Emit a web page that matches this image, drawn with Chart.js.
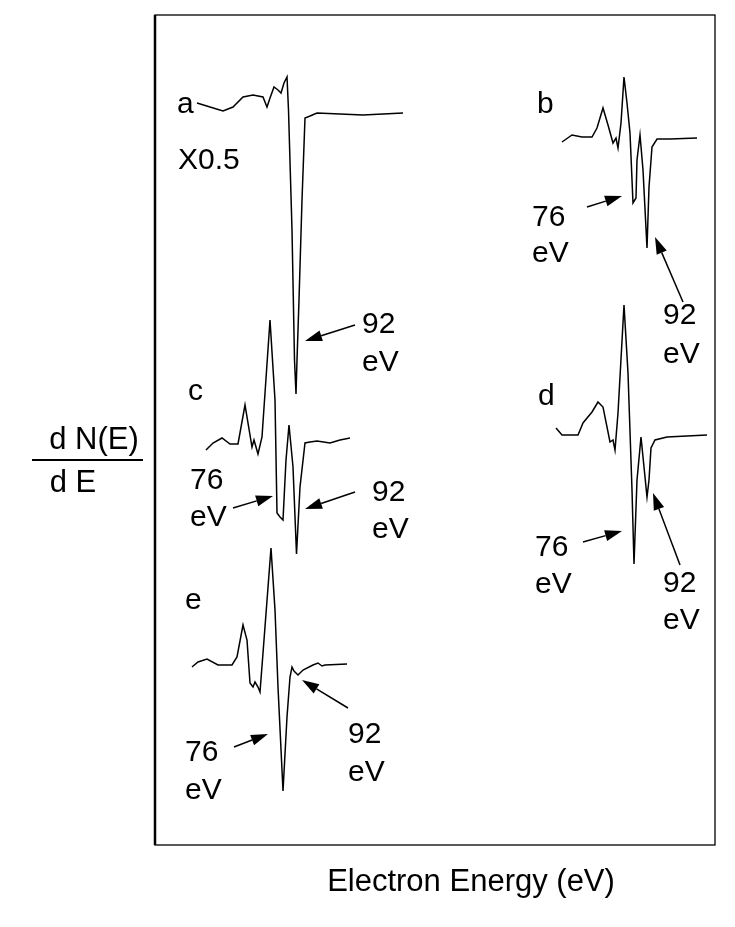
<!DOCTYPE html>
<html lang="en">
<head>
<meta charset="UTF-8">
<title>dN(E)/dE spectra</title>
<script src="https://cdn.jsdelivr.net/npm/chart.js"></script>
<style>
  html, body { margin: 0; padding: 0; background: #fff; }
  #wrap { width: 735px; height: 927px; }
</style>
</head>
<body>
<div id="wrap"><canvas id="spectra"></canvas></div>
<script>
// energy (eV) and dN/dE (arbitrary units, 0 = flat high-energy tail)
const energyA = [-7, 6, 19, 29, 39, 49, 59, 63, 66, 70, 74, 77, 80, 83, 84.5, 88, 90.5, 92, 93, 95, 98, 101, 106, 113, 136, 159, 199];
const dndeA   = [10, 6, 2, 6, 16, 18, 16, 6, 15, 26, 23, 20, 30, 36, 3, -117, -247, -281, -247, -187, -87, -5, -3, 0, -1, -2, 0];

const energyB = [7, 17, 27, 37, 42, 48, 53, 58, 61, 63, 66, 69, 72, 75, 78, 81, 82, 85, 88, 92, 94, 97, 102, 115, 142];
const dndeB   = [-3, 4, 2, 2, 11, 31, 14, -4, 1, -9, 16, 62, 36, 6, -64, -59, -21, 4, -31, -109, -48, -8, 0, 0, 1];

const energyC = [2, 9, 18, 26, 34, 41, 48, 50, 54, 58, 66, 71, 73, 76, 79, 82, 85, 89, 92.5, 96, 101, 106, 113, 126, 136, 146];
const dndeC   = [-9, -2, 3, -3, -3, 36, -6, 1, -13, 4, 121, 41, -72, -76, -79, -19, 16, -26, -113, -46, -2, -1, 0, -2, 1, 3];

const energyD = [1, 7, 23, 28, 37, 43, 48, 55, 58, 60, 63, 69, 73, 77, 79, 82, 86, 88, 92, 94, 96, 100, 112, 152];
const dndeD   = [8, 1, 1, 13, 24, 34, 29, -6, -4, -14, 23, 131, 63, -54, -128, -44, -1, -21, -61, -44, -12, -4, -1, 1];

const energyE = [-14, -8, 1, 12, 26, 31, 37, 41, 44, 47, 49, 52, 54, 57, 65, 69, 72, 77, 81, 84, 86, 88, 92, 97, 107, 112, 116, 119, 141];
const dndeE   = [-3, 2, 5, -1, -1, 7, 39, 24, -19, -23, -18, -23, -28, 11, 116, 54, -23, -127, -53, -13, -3, -7, -11, -6, -1, 1, -2, -1, 0];

const panelNames = ['a', 'b', 'c', 'd', 'e'];
const energies = { a: energyA, b: energyB, c: energyC, d: energyD, e: energyE };
const values   = { a: dndeA,   b: dndeB,   c: dndeC,   d: dndeD,   e: dndeE };

// where each trace sits in the frame (frame units: 0..560 across, 0..830 down)
const placement = {
  a: { dx: 49,  base: 98 },
  b: { dx: 400, base: 124 },
  c: { dx: 49,  base: 426 },
  d: { dx: 400, base: 421 },
  e: { dx: 51,  base: 649 }
};

// text in the frame: [text, x, baseline y]
const labels = [
  ['a', 22, 98], ['X0.5', 23, 154], ['92', 207, 318], ['eV', 207, 356],
  ['b', 382, 98], ['76', 377, 211], ['eV', 377, 247], ['92', 508, 309], ['eV', 508, 348],
  ['c', 33, 385], ['76', 35, 474], ['eV', 35, 511], ['92', 217, 486], ['eV', 217, 523],
  ['d', 383, 390], ['76', 380, 541], ['eV', 380, 578], ['92', 508, 577], ['eV', 508, 614],
  ['e', 30, 594], ['76', 30, 746], ['eV', 30, 784], ['92', 193, 728], ['eV', 193, 766]
];

// arrows: tail -> tip
const arrows = [
  [200, 310, 150, 326],
  [432, 192, 467, 181], [528, 287, 500, 222],
  [78, 493, 118, 481], [200, 477, 150, 494],
  [428, 527, 467, 516], [525, 550, 498, 478],
  [79, 732, 113, 719], [193, 693, 147, 665]
];

const datasets = panelNames.map(name => ({
  label: name,
  data: energies[name].map((e, i) => ({ x: e + placement[name].dx, y: placement[name].base - values[name][i] })),
  borderColor: '#000',
  borderWidth: 1.5,
  pointRadius: 0,
  tension: 0,
  fill: false
}));

const decor = {
  id: 'decor',
  afterDraw(chart) {
    const ctx = chart.ctx;
    const area = chart.chartArea;
    const sx = chart.scales.x, sy = chart.scales.y;
    const px = v => sx.getPixelForValue(v);
    const py = v => sy.getPixelForValue(v);

    ctx.save();
    ctx.strokeStyle = '#000';
    ctx.fillStyle = '#000';

    // frame
    ctx.lineWidth = 1.3;
    ctx.strokeRect(area.left, area.top, area.right - area.left, area.bottom - area.top);
    ctx.lineWidth = 2.5;
    ctx.beginPath();
    ctx.moveTo(area.left, area.top);
    ctx.lineTo(area.left, area.bottom);
    ctx.stroke();

    // labels
    ctx.font = '30px "Liberation Sans", Arial, sans-serif';
    ctx.textAlign = 'left';
    ctx.textBaseline = 'alphabetic';
    labels.forEach(([t, x, y]) => ctx.fillText(t, px(x), py(y)));

    // arrows
    ctx.lineWidth = 1.5;
    arrows.forEach(([x1, y1, x2, y2]) => {
      const ax = px(x1), ay = py(y1), bx = px(x2), by = py(y2);
      const ang = Math.atan2(by - ay, bx - ax);
      const len = 17, half = 5.5;
      const hx = bx - len * Math.cos(ang), hy = by - len * Math.sin(ang);
      ctx.beginPath();
      ctx.moveTo(ax, ay);
      ctx.lineTo(hx, hy);
      ctx.stroke();
      ctx.beginPath();
      ctx.moveTo(bx, by);
      ctx.lineTo(hx + half * Math.sin(ang), hy - half * Math.cos(ang));
      ctx.lineTo(hx - half * Math.sin(ang), hy + half * Math.cos(ang));
      ctx.closePath();
      ctx.fill();
    });

    // axis titles
    ctx.font = '31px "Liberation Sans", Arial, sans-serif';
    ctx.textAlign = 'center';
    ctx.fillText('d N(E)', 94, 449);
    ctx.fillText('d E', 73, 492);
    ctx.lineWidth = 2;
    ctx.beginPath();
    ctx.moveTo(32, 460);
    ctx.lineTo(143, 460);
    ctx.stroke();
    ctx.fillText('Electron Energy (eV)', 471, 891);
    ctx.restore();
  }
};

new Chart(document.getElementById('spectra'), {
  type: 'line',
  data: { datasets },
  options: {
    responsive: true,
    maintainAspectRatio: false,
    animation: false,
    events: [],
    layout: { padding: { left: 155, right: 20, top: 15, bottom: 82 } },
    plugins: { legend: { display: false }, tooltip: { enabled: false } },
    scales: {
      x: { type: 'linear', min: 0, max: 560, display: false },
      y: { type: 'linear', min: 0, max: 830, reverse: true, display: false }
    }
  },
  plugins: [decor]
});
</script>
</body>
</html>
